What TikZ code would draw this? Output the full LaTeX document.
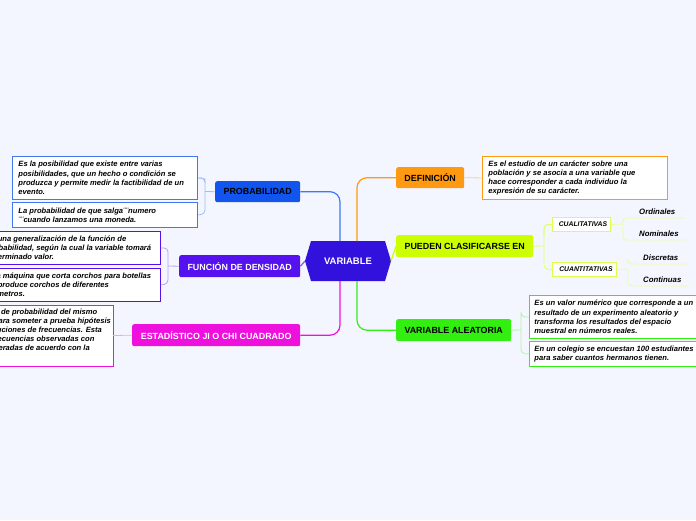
\documentclass[tikz,border=0pt]{standalone}
\usepackage{fontspec}
\setmainfont{Liberation Sans}
\begin{document}
\begin{tikzpicture}[x=1pt,y=-1pt,
 cat/.style={rounded corners=2pt,font=\fontsize{8.9}{10}\selectfont\bfseries,inner sep=0pt,anchor=north west},
 leaf/.style={draw,line width=0.9pt,fill=white,align=left,font=\fontsize{7.6}{9.2}\selectfont\bfseries\itshape,inner sep=0pt,anchor=north west},
 sub/.style={draw,line width=0.9pt,fill=white,font=\fontsize{6.8}{8}\selectfont\bfseries\itshape,inner sep=0pt,anchor=north west,minimum height=14pt},
 lbl/.style={font=\fontsize{7.8}{9}\selectfont\bfseries\itshape,anchor=west,inner sep=0pt},
 conn/.style={line width=1.2pt,rounded corners=10pt},
 br/.style={line width=0.8pt,rounded corners=4pt}]
\fill[fill={rgb,255:red,244;green,246;blue,255}] (0,0) rectangle (696,520);
\useasboundingbox (0,0) rectangle (696,520);
\clip (0,0) rectangle (696,520);
\definecolor{cvar}{HTML}{3311DD}\definecolor{cprob}{HTML}{1155EE}\definecolor{cden}{HTML}{5511EE}
\definecolor{cchi}{HTML}{EE11DD}\definecolor{cdef}{HTML}{FF9911}\definecolor{ccla}{HTML}{CCFF00}\definecolor{cale}{HTML}{33EE11}
% central
\fill[cvar] (311,241) -- (385,241) -- (391,261) -- (385,281) -- (311,281) -- (305,261) -- cycle;
\node[text=white,font=\fontsize{9.5}{10}\selectfont\bfseries] (var) at (348,261) {VARIABLE};
\coordinate (vt1) at (340,241);\coordinate (vt2) at (357,241);
\coordinate (vb1) at (340,281);\coordinate (vb2) at (357,281);
\coordinate (vl) at (305,261);\coordinate (vr) at (391,261);
% categories
\node[cat,fill=cprob,minimum width=85pt,minimum height=21pt] (prob) at (215,181) {PROBABILIDAD};
\node[cat,fill=cden,text=white,minimum width=121pt,minimum height=22pt] (den) at (179,255) {FUNCIÓN DE DENSIDAD};
\node[cat,fill=cchi,text=white,minimum width=168pt,minimum height=22pt] (chi) at (132,324) {ESTADÍSTICO JI O CHI CUADRADO};
\node[cat,fill=cdef,minimum width=68pt,minimum height=21pt] (def) at (396,167) {DEFINICIÓN};
\node[cat,fill=ccla,minimum width=137pt,minimum height=22pt] (cla) at (396,235) {PUEDEN CLASIFICARSE EN};
\node[cat,fill=cale,minimum width=115pt,minimum height=22pt] (ale) at (396,319) {VARIABLE ALEATORIA};
% main connectors
\draw[conn,cprob!80] (vt1) |- (prob.east);
\draw[conn,cden!70] (vl) -- (den.east);
\draw[conn,cchi] (vb1) |- (chi.east);
\draw[conn,cdef] (vt2) |- (def.west);
\draw[conn,ccla] (vr) -- (cla.west);
\draw[conn,cale] (vb2) |- (ale.west);
% leaves
\node[leaf,draw=cdef,minimum width=185pt,minimum height=43pt] (d1) at (482,156) {\hspace*{5pt}\parbox{178pt}{Es el estudio de un carácter sobre una\\población y se asocia a una variable que\\hace corresponder a cada individuo la\\expresión de su carácter.}};
\draw[br,cdef!50] (def.east) -- (d1.west);
\node[leaf,draw=cprob!80,minimum width=185pt,minimum height=43pt] (p1) at (12,156) {\hspace*{5pt}\parbox{178pt}{Es la posibilidad que existe entre varias\\posibilidades, que un hecho o condición se\\produzca y permite medir la factibilidad de un\\evento.}};
\node[leaf,draw=cprob!80,minimum width=185pt,minimum height=25pt] (p2) at (12,202) {\hspace*{5pt}\parbox{178pt}{La probabilidad de que salga¨¨numero\\¨¨cuando lanzamos una moneda.}};
\draw[br,cprob!40] (prob.west) -- (205,191.5) (p1.east) -| (205,214) -- (p2.east);
\draw[br,cprob!40] (205,178) |- (p1.east);
\node[leaf,draw=cden,minimum width=165pt,minimum height=33pt] (f1) at (-5,231) {\hspace*{-9pt}\parbox{174pt}{Es una generalización de la función de\\probabilidad, según la cual la variable tomará\\determinado valor.}};
\node[leaf,draw=cden,minimum width=165pt,minimum height=33pt] (f2) at (-5,268) {\hspace*{-9pt}\parbox{174pt}{Una máquina que corta corchos para botellas\\no produce corchos de diferentes\\diámetros.}};
\draw[br,cden!40] (den.west) -- (168,266) (f1.east) -| (168,284) -- (f2.east);
\draw[line width=0.9pt,cchi,fill=white] (-5,305) rectangle (113,366);
\node[leaf,draw=none,fill=none,anchor=north west] (c1) at (-72,308) {\parbox{200pt}{Es una distribución de probabilidad del mismo\\nombre que sirve para someter a prueba hipótesis\\referentes a distribuciones de frecuencias. Esta\\prueba contrasta frecuencias observadas con\\las frecuencias esperadas de acuerdo con la\\hipótesis nula.}};
\draw[br,cchi!40] (chi.west) -- (113,335.5);
% clasificacion
\node[sub,draw=ccla!70,minimum width=58pt] (cu) at (552,217) {\hspace*{3pt}CUALITATIVAS};
\node[sub,draw=ccla!70,minimum width=64pt] (cn) at (552,262) {\hspace*{3pt}CUANTITATIVAS};
\draw[br,ccla!60] (cla.east) -- (544,246) (cu.west) -| (544,269) -- (cn.west);
\draw[br,ccla!60] (544,235) |- (cu.west);
\node[lbl] (o) at (639,212) {Ordinales};
\node[lbl] (n) at (639,234) {Nominales};
\node[lbl] (ds) at (643,258) {Discretas};
\node[lbl] (co) at (643,280) {Continuas};
\draw[br,ccla!40] (cu.east) -- (623,224) (623,219) |- (630,218) -- (685,218);
\draw[br,ccla!40] (623,224) |- (630,240) -- (685,240);
\draw[br,ccla!40] (cn.east) -- (628,269) (628,264) |- (635,264) -- (690,264);
\draw[br,ccla!40] (628,269) |- (635,286) -- (690,286);
% aleatoria
\node[leaf,draw=cale,minimum width=172pt,minimum height=43pt] (a1) at (529,295) {\hspace*{5pt}\parbox{190pt}{Es un valor numérico que corresponde a un\\resultado de un experimento aleatorio y\\transforma los resultados del espacio\\muestral en números reales.}};
\node[leaf,draw=cale,minimum width=172pt,minimum height=25pt] (a2) at (529,341) {\hspace*{5pt}\parbox{190pt}{En un colegio se encuestan 100 estudiantes\\para saber cuantos hermanos tienen.}};
\draw[br,cale!40] (ale.east) -- (521,330) (521,316) |- (a1.west) (521,316) -- (521,353.5) -- (a2.west);
\end{tikzpicture}
\end{document}
